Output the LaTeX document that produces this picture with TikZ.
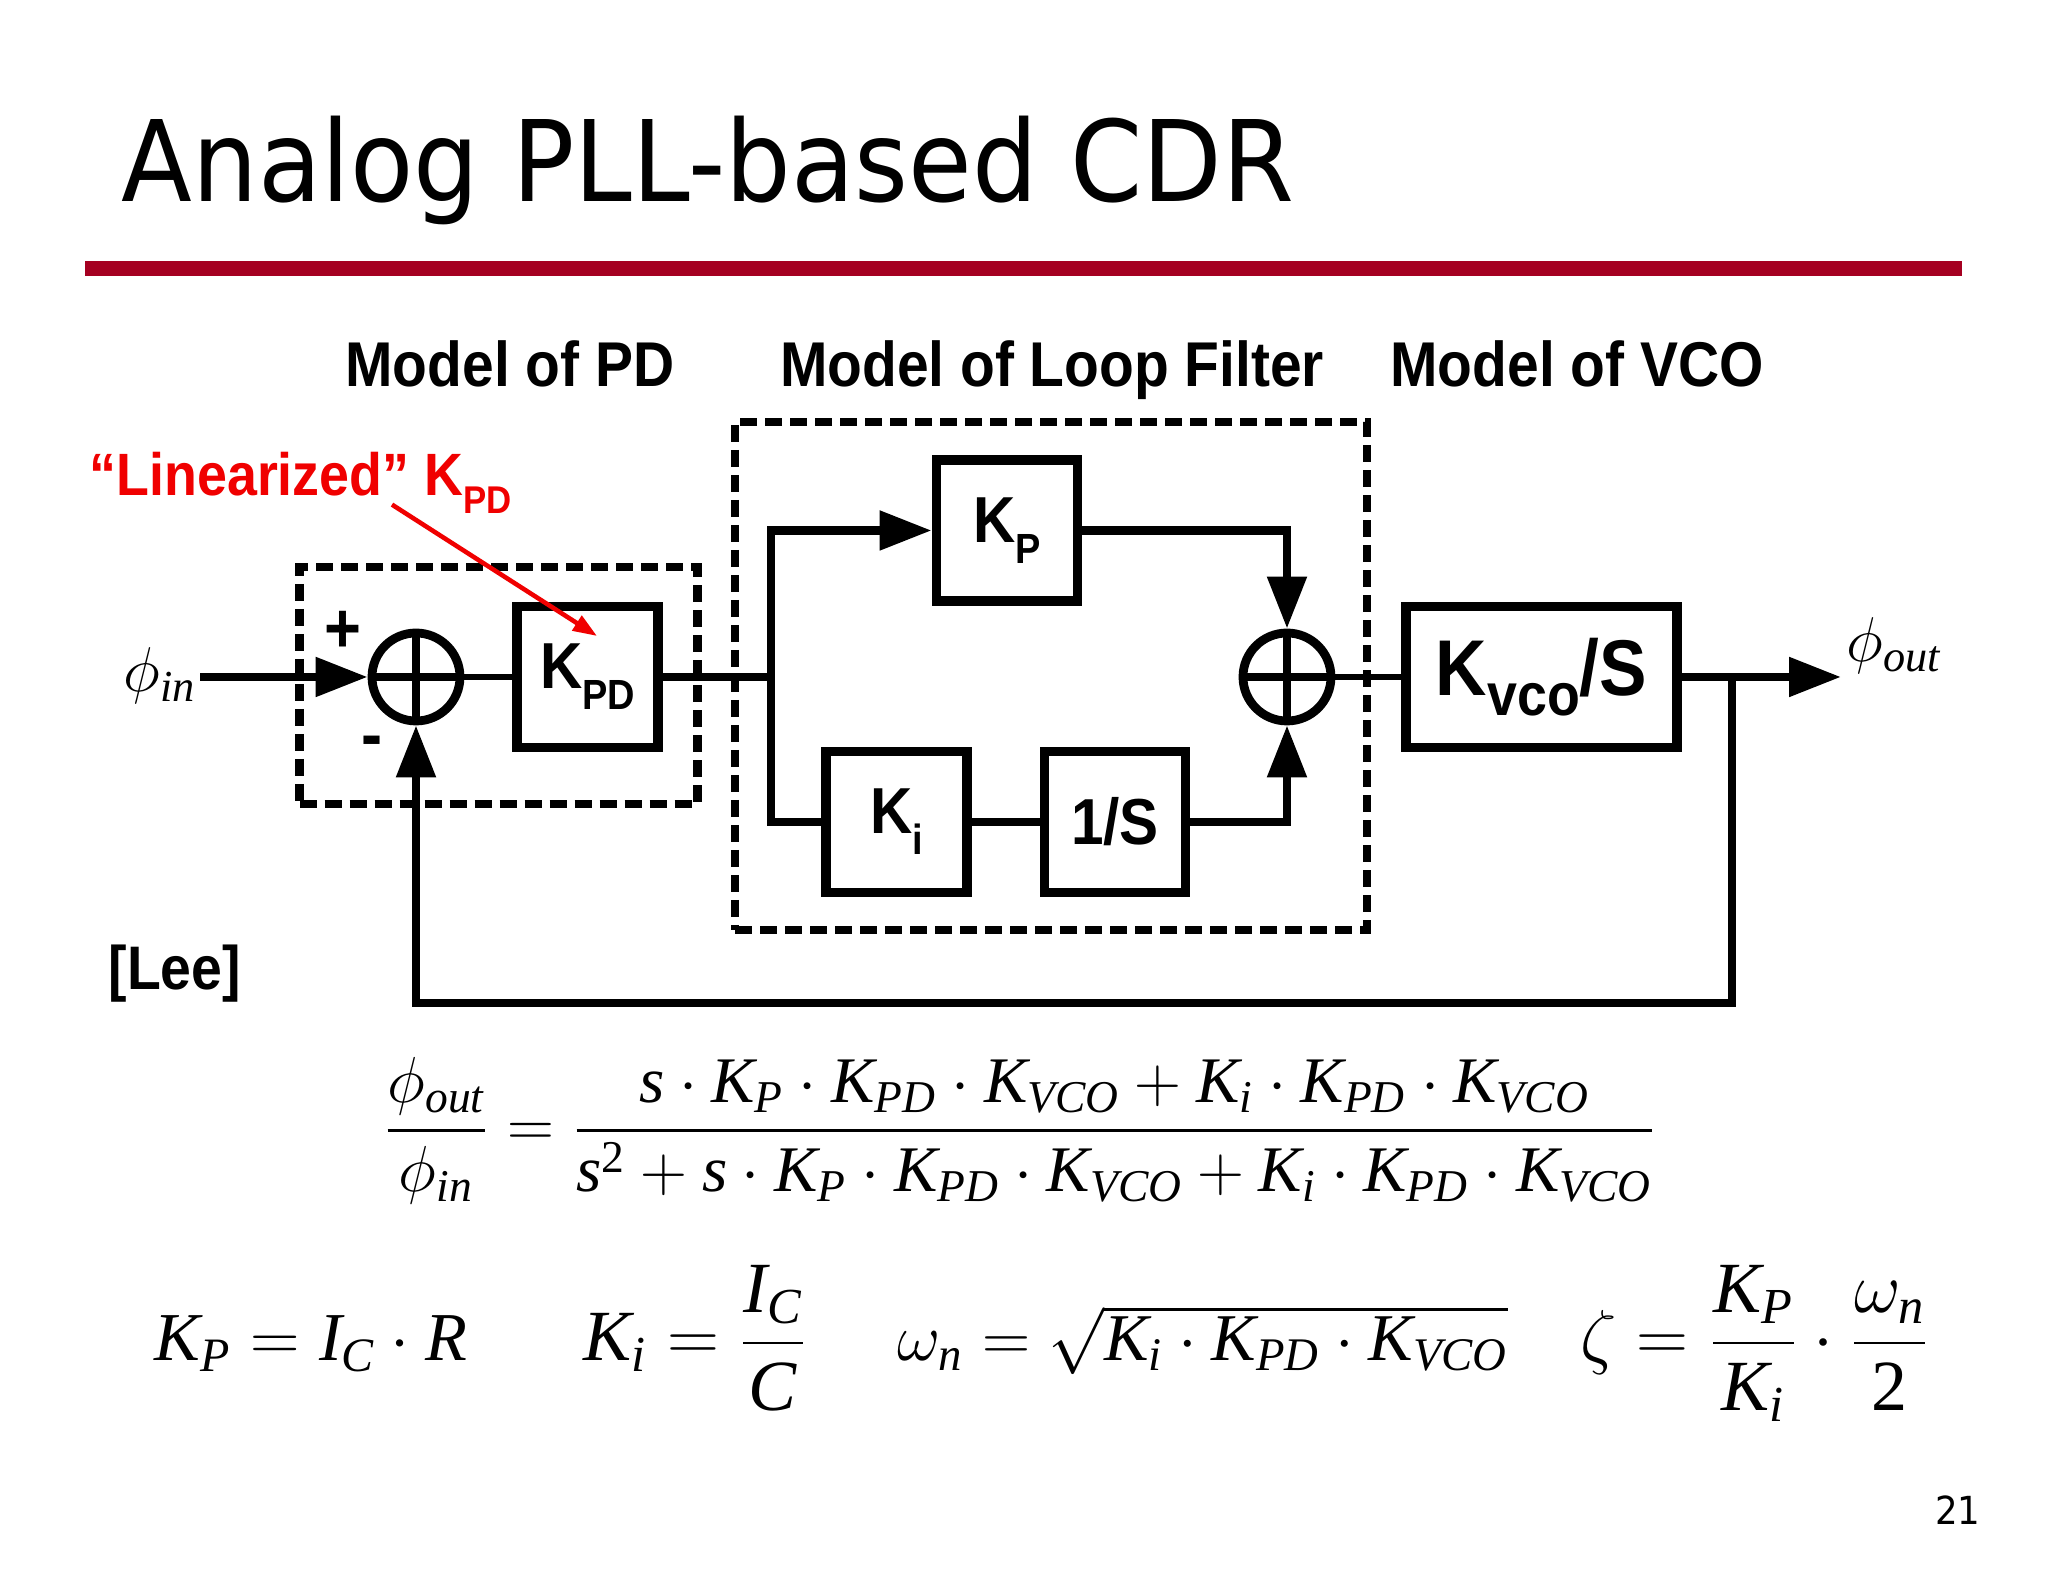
\RequirePackage{fix-cm}
\documentclass[tikz,border=0pt]{standalone}
\usepackage{amsmath}
\usepackage{fontspec}
\usepackage{tikz}
\usetikzlibrary{calc,positioning,arrows.meta}
\setmainfont{Liberation Sans}[FakeStretch=0.9]
\newfontfamily\titlefont{DejaVu Sans}[FakeStretch=0.92]
\newfontfamily\eqfont{Liberation Serif}
\definecolor{slidered}{HTML}{A50021}
\definecolor{notered}{HTML}{F00000}
\newcommand{\ev}[1]{\text{\eqfont\itshape #1}}
\newcommand{\en}[1]{\text{\eqfont #1}}
\newcommand{\lowsub}[3]{\raisebox{#1}{\fontsize{#2}{#2}\selectfont #3}}

\tikzset{
  gain/.style={draw, line width=2.8pt, minimum width=1.41cm, minimum height=1.41cm,
    inner sep=0pt, font=\bfseries\fontsize{18.5}{20}\selectfont},
  adder/.style={circle, draw, line width=2.5pt, minimum size=0.88cm, inner sep=0pt,
    path picture={\draw[line width=2.2pt]
      (path picture bounding box.north) -- (path picture bounding box.south)
      (path picture bounding box.west) -- (path picture bounding box.east);}},
  wire/.style={line width=2.4pt},
  thinwire/.style={line width=1.7pt},
  arrowed/.style={-{Triangle[length=0.52cm,width=0.38cm]}},
  group/.style={draw, line width=2.3pt, dash pattern=on 0.17cm off 0.08cm, inner sep=0pt},
  heading/.style={anchor=base, font=\bfseries\fontsize{18}{20}\selectfont},
}

\begin{document}
\begin{tikzpicture}
  \useasboundingbox[fill=white] (0,0) rectangle (20.48,15.82);

  \node[anchor=base west, inner sep=0pt, font=\titlefont\fontsize{32}{36}\selectfont]
    (title) at (1.21,13.80) {Analog PLL-based CDR};
  \fill[slidered] (0.85,13.06) rectangle (19.62,13.21);

  \node[heading] (pdhead) at (5.10,11.95) {Model of PD};
  \node[heading] (lfhead) at (10.52,11.95) {Model of Loop Filter};
  \node[heading] (vcohead) at (15.77,11.95) {Model of VCO};

  \node[group, minimum width=3.98cm, minimum height=2.37cm] (pdbox) at (4.985,8.965) {};
  \node[group, minimum width=6.32cm, minimum height=5.08cm] (lfbox) at (10.51,9.06) {};

  \node[adder] (sum1) at (4.16,9.05) {};
  \node[adder] (sum2) at (12.87,9.05) {};
  \node[gain] (kpd) at (5.875,9.05) {K\lowsub{-0.32em}{12}{PD}};
  \node[gain] (kp) at (10.07,10.515) {K\lowsub{-0.32em}{12}{P}};
  \node[gain] (ki) at (8.965,7.60) {K\lowsub{-0.32em}{12}{i}};
  \node[gain] (is) at (11.15,7.60) {1/S};
  \node[gain, minimum width=2.71cm, font=\bfseries\fontsize{22.5}{24}\selectfont]
    (kvco) at (15.415,9.05) {K\lowsub{-0.2cm}{17}{vco}/S};

  \node[anchor=base east, inner sep=0.03cm, font=\fontsize{18}{20}\selectfont]
    (phiin) at (2.0,8.90) {$\phi_{\ev{in}}$};
  \node[anchor=base west, inner sep=0.05cm, font=\fontsize{18}{20}\selectfont]
    (phiout) at (18.41,9.20) {$\phi_{\ev{out}}$};
  \node[font=\bfseries\fontsize{20}{20}\selectfont] (plus) at (3.43,9.50) {+};
  \node[font=\bfseries\fontsize{20}{20}\selectfont] (minus) at (3.72,8.35) {-};

  \coordinate (split) at (7.71,9.05);
  \coordinate (tap) at (17.32,9.05);
  \coordinate (fb) at (17.32,5.79);

  \draw[wire, arrowed] (phiin.east |- sum1) -- (sum1);
  \draw[thinwire] (sum1) -- (kpd);
  \draw[wire] (kpd) -- (split);
  \draw[wire, arrowed] (split) |- (kp);
  \draw[wire] (split) |- (ki);
  \draw[wire, arrowed] (kp) -| (sum2);
  \draw[wire] (ki) -- (is);
  \draw[wire, arrowed] (is) -| (sum2);
  \draw[thinwire] (sum2) -- (kvco);
  \draw[wire, arrowed] (kvco) -- (kvco -| phiout.west);
  \draw[wire, arrowed] (tap) -- (fb) -| (sum1);

  \node[anchor=base west, inner sep=0pt, text=notered, font=\bfseries\fontsize{17}{18}\selectfont]
    (lin) at (0.89,10.86) {``Linearized'' K\lowsub{-0.3em}{11}{PD}};
  \coordinate (lintip) at (5.97,9.46);
  \draw[notered, line width=1.3pt, -{Triangle[length=0.24cm,width=0.17cm]}]
    ([xshift=3.03cm,yshift=0.1cm]lin.south west) -- (lintip);

  \node[anchor=base west, inner sep=0pt, font=\bfseries\fontsize{17.5}{18}\selectfont]
    (lee) at (1.08,5.92) {[Lee]};

  \node[font=\fontsize{18.5}{22}\selectfont] (tf) at (10.20,4.51) {$\displaystyle
    \frac{\phi_{\ev{out}}}{\phi_{\ev{in}}} =
    \frac{\ev{s}\cdot\ev{K}_{\ev{P}}\cdot\ev{K}_{\ev{PD}}\cdot\ev{K}_{\ev{VCO}}
      +\ev{K}_{\ev{i}}\cdot\ev{K}_{\ev{PD}}\cdot\ev{K}_{\ev{VCO}}}
    {\ev{s}^{\en{2}}+\ev{s}\cdot\ev{K}_{\ev{P}}\cdot\ev{K}_{\ev{PD}}\cdot\ev{K}_{\ev{VCO}}
      +\ev{K}_{\ev{i}}\cdot\ev{K}_{\ev{PD}}\cdot\ev{K}_{\ev{VCO}}}$};

  \node[anchor=base, font=\fontsize{19.5}{24}\selectfont] (kpeq) at (3.11,2.21)
    {$\ev{K}_{\ev{P}} = \ev{I}_{\ev{C}}\cdot\ev{R}$};
  \node[anchor=base, font=\fontsize{20.5}{24}\selectfont] (kieq) at (6.95,2.21)
    {$\displaystyle\ev{K}_{\ev{i}} = \frac{\ev{I}_{\ev{C}}}{\ev{C}}$};
  \node[anchor=base, font=\fontsize{19}{24}\selectfont] (wneq) at (12.03,2.21)
    {$\omega_{\ev{n}} = \sqrt{\ev{K}_{\ev{i}}\cdot\ev{K}_{\ev{PD}}\cdot\ev{K}_{\ev{VCO}}}$};
  \node[anchor=base, font=\fontsize{20.5}{24}\selectfont] (zetaeq) at (17.55,2.21)
    {$\displaystyle\zeta = \frac{\ev{K}_{\ev{P}}}{\ev{K}_{\ev{i}}}\cdot\frac{\omega_{\ev{n}}}{\en{2}}$};

  \node[anchor=base east, inner sep=0pt, font=\titlefont\fontsize{11}{12}\selectfont]
    (pagenum) at (19.81,0.57) {21};
\end{tikzpicture}
\end{document}
